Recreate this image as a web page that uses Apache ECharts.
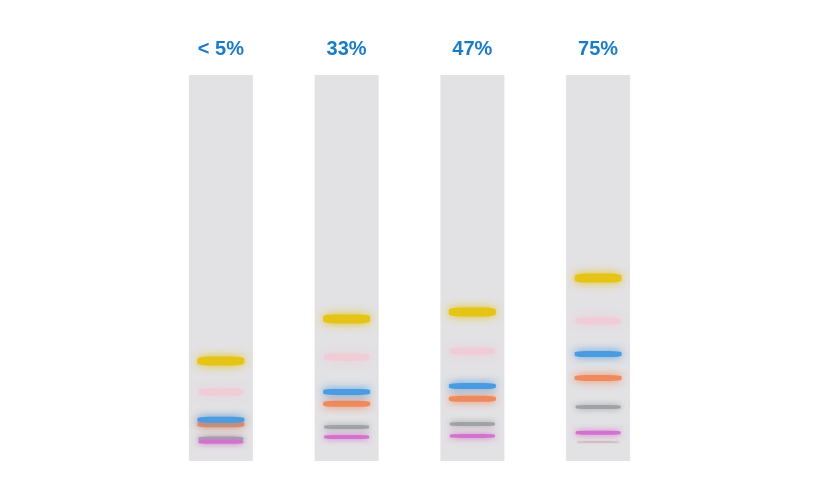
<!DOCTYPE html>
<html>
<head>
<meta charset="utf-8">
<script src="https://cdn.jsdelivr.net/npm/echarts@6/dist/echarts.min.js"></script>
<style>html,body{margin:0;padding:0;background:#fff;}#c{width:822px;height:500px;}</style>
</head>
<body>
<div id="c"></div>
<script>
// Lane labels (percent)
const lanes = ['< 5%', '33%', '47%', '75%'];
// Plate height (full lane, Rf scale 0..1)
const plate = [1, 1, 1, 1];
// Band positions (Rf, fraction of plate height from bottom)
const yellowBand = [0.259, 0.368, 0.386, 0.474];
const pinkBand   = [0.179, 0.269, 0.285, 0.363];
const blueBand   = [0.107, 0.179, 0.194, 0.277];
const orangeBand = [0.095, 0.148, 0.161, 0.215];
const grayBand   = [0.058, 0.088, 0.096, 0.140];
const purpleBand = [0.050, 0.062, 0.065, 0.073];
const brownBand  = [null, null, null, 0.049];

const bands = [
  {name: 'yellow', data: yellowBand, color: '#e6c416', size: [47, 9], blur: 10, op: 1, z: 2},
  {name: 'pink',   data: pinkBand,   color: '#f0cbd5', size: [45, 7], blur: 10, op: 0.9, z: 2},
  {name: 'blue',   data: blueBand,   color: '#4b9be0', size: [47, 6], blur: 8, op: 1, z: 3},
  {name: 'orange', data: orangeBand, color: '#f08a5c', size: [47, 6], blur: 8, op: 1, z: 2},
  {name: 'gray',   data: grayBand,   color: '#a0a3a6', size: [45, 4], blur: 6, op: 1, z: 2},
  {name: 'purple', data: purpleBand, color: '#d272cc', size: [45, 4], blur: 6, op: 1, z: 3},
  {name: 'brown',  data: brownBand,  color: '#c8a2a0', size: [42, 1], blur: 2, op: 0.8, z: 2}
];

const chart = echarts.init(document.getElementById('c'), null, {renderer: 'canvas'});
const series = [{
  type: 'bar',
  data: plate,
  barWidth: 64,
  silent: true,
  itemStyle: {color: '#e2e1e4'},
  z: 1
}];
bands.forEach(b => {
  series.push({
    type: 'scatter',
    name: b.name,
    data: b.data,
    symbol: 'roundRect',
    symbolSize: b.size,
    silent: true,
    z: b.z,
    itemStyle: {
      color: b.color,
      opacity: b.op,
      shadowBlur: b.blur,
      shadowColor: b.color
    }
  });
});

chart.setOption({
  animation: false,
  backgroundColor: '#ffffff',
  grid: {left: 158, right: 161, top: 75, bottom: 39},
  xAxis: {
    type: 'category',
    position: 'top',
    data: lanes,
    axisLine: {show: false},
    axisTick: {show: false},
    axisLabel: {
      color: '#1a7bc6',
      fontSize: 20,
      fontWeight: 'bold',
      fontFamily: 'Liberation Sans, Arial, sans-serif',
      margin: 16
    }
  },
  yAxis: {
    type: 'value',
    min: 0,
    max: 1,
    show: false
  },
  series: series
});
</script>
</body>
</html>
